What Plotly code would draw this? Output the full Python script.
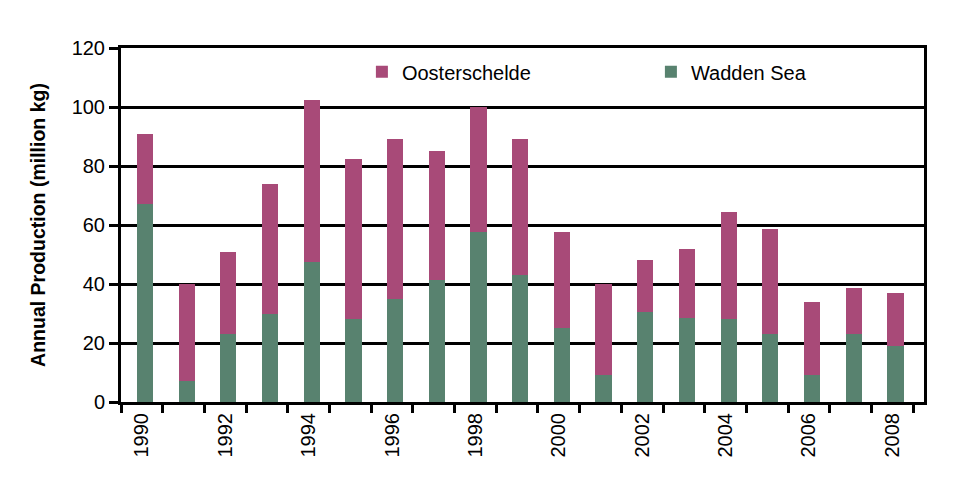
import plotly.graph_objects as go

years = [str(y) for y in range(1990, 2009)]
wadden_sea = [67, 7, 23, 30, 47.5, 28, 35, 41.5, 57.5, 43, 25, 9, 30.5, 28.5, 28, 23, 9, 23, 19]
totals = [91, 40, 51, 74, 102.5, 82.5, 89, 85, 100, 89, 57.5, 40, 48, 52, 64.5, 58.5, 34, 38.5, 37]
oosterschelde = [round(t - w, 1) for t, w in zip(totals, wadden_sea)]
tick_labels = [y if int(y) % 2 == 0 else "" for y in years]

GREEN = "#58826F"
PINK = "#A84A78"
FONT = "Liberation Sans, Arial, sans-serif"

fig = go.Figure()
fig.add_trace(go.Bar(x=years, y=wadden_sea, name="Wadden Sea", marker_color=GREEN,
                     marker_line_width=0, width=0.39, offset=-0.12))
fig.add_trace(go.Bar(x=years, y=oosterschelde, name="Oosterschelde", marker_color=PINK,
                     marker_line_width=0, width=0.39, offset=-0.12))

fig.update_layout(
    width=952, height=472,
    margin=dict(l=113, r=36, t=40, b=78),
    paper_bgcolor="white", plot_bgcolor="white",
    barmode="stack",
    font=dict(family=FONT, size=20, color="black"),
    showlegend=True,
    legend=dict(orientation="h", traceorder="reversed",
                x=0.30, xanchor="left", y=0.933, yanchor="middle",
                entrywidth=244, bgcolor="rgba(0,0,0,0)",
                font=dict(family=FONT, size=20, color="black")),
    xaxis=dict(type="category", range=[-0.5, 18.76],
               tickmode="array", tickvals=years, ticktext=tick_labels,
               tickson="boundaries", ticks="outside", ticklen=8, tickwidth=3, tickcolor="black",
               tickangle=-90, showgrid=False,
               showline=True, linewidth=3, linecolor="black", mirror=True,
               tickfont=dict(family=FONT, size=20, color="black")),
    yaxis=dict(range=[0, 120], tickvals=[0, 20, 40, 60, 80, 100, 120],
               ticks="outside", ticklen=9, tickwidth=3, tickcolor="black",
               showgrid=True, gridcolor="black", gridwidth=3,
               showline=True, linewidth=3, linecolor="black", mirror=True,
               zeroline=False,
               tickfont=dict(family=FONT, size=20, color="black"),
               title=dict(text="<b>Annual Production (million kg)</b>", standoff=21,
                          font=dict(family=FONT, size=19.5, color="black"))),
)

fig.write_html("out.html")
